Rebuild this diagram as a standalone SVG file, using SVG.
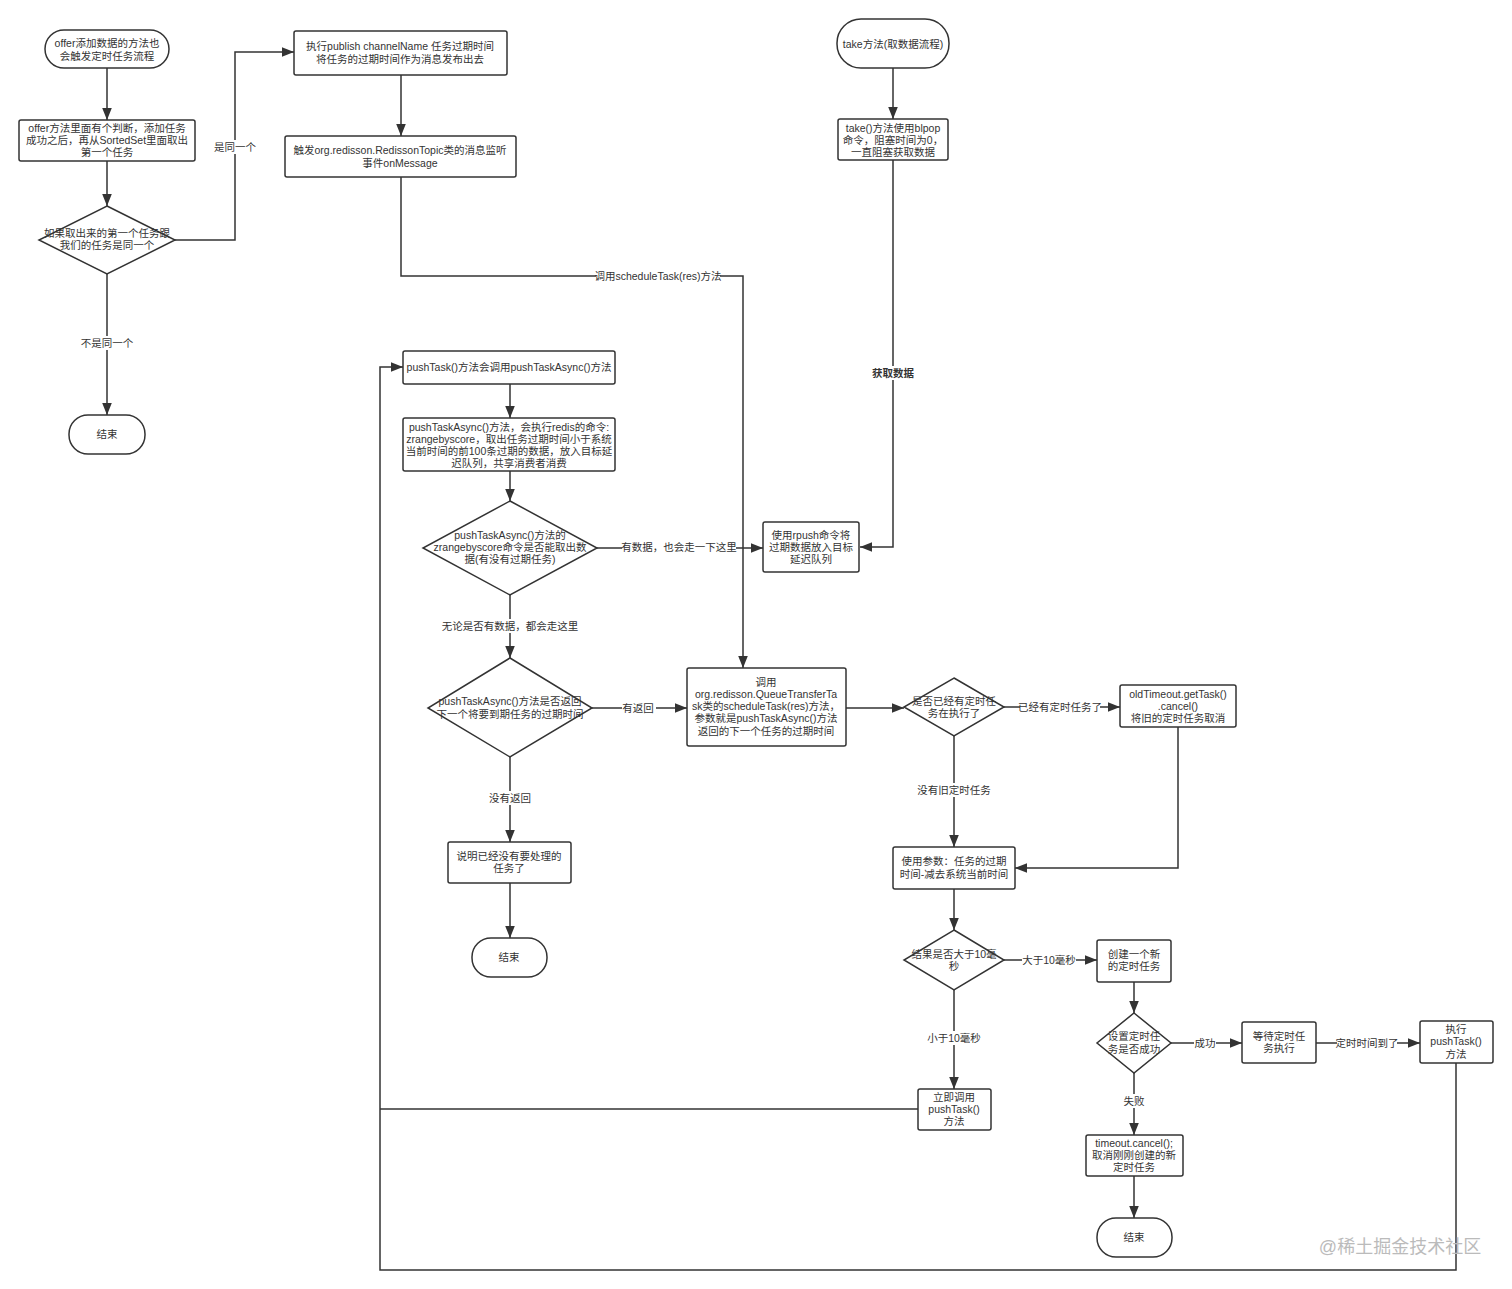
<svg xmlns="http://www.w3.org/2000/svg" width="1512" height="1289" viewBox="0 0 1512 1289">
<defs>
<marker id="a" viewBox="0 0 10 10" refX="10" refY="5" markerWidth="8" markerHeight="8" orient="auto"><path d="M0,1 L10,5 L0,9 z" fill="#333"/></marker>
<style>
.n{fill:#fff;stroke:#333;stroke-width:1.5}
.t{font-family:"Liberation Sans","Noto Sans CJK SC",sans-serif;font-size:10.5px;fill:#333;text-anchor:middle}
.e{fill:none;stroke:#333;stroke-width:1.5;marker-end:url(#a)}
.p{fill:none;stroke:#333;stroke-width:1.5}
.l{font-family:"Liberation Sans","Noto Sans CJK SC",sans-serif;font-size:10.5px;fill:#333;text-anchor:middle}
.lb{fill:#fff}
</style>
</defs>
<rect width="1512" height="1289" fill="#fff"/>
<g id="connectors">
<path class="e" d="M107,68 V120"/>
<path class="e" d="M107,161 V206"/>
<path class="e" d="M175,240 H235 V52 H294"/>
<path class="e" d="M107,274 V415"/>
<path class="e" d="M401,75 V136"/>
<path class="e" d="M401,177 V276 H743 V668"/>
<path class="e" d="M893,68 V119"/>
<path class="e" d="M893,160 V547 H860"/>
<path class="e" d="M510,384 V418"/>
<path class="e" d="M510,471 V501"/>
<path class="e" d="M597,548 H763"/>
<path class="e" d="M510,595 V658"/>
<path class="e" d="M592,708 H687"/>
<path class="e" d="M510,757 V842"/>
<path class="e" d="M510,883 V938"/>
<path class="e" d="M846,708 H904"/>
<path class="e" d="M1004,707 H1120"/>
<path class="e" d="M1178,727 V868 H1015"/>
<path class="e" d="M954,736 V847"/>
<path class="e" d="M954,889 V930"/>
<path class="e" d="M1004,960 H1097"/>
<path class="e" d="M954,990 V1089"/>
<path class="e" d="M1134,982 V1013"/>
<path class="e" d="M1171,1043 H1242"/>
<path class="e" d="M1316,1043 H1420"/>
<path class="e" d="M1134,1073 V1135"/>
<path class="e" d="M1134,1176 V1218"/>
<path class="p" d="M918,1109 H380"/>
<path class="e" d="M1456,1063 V1270 H380 V367 H403"/>
<g class="l">
<rect class="lb" x="212" y="140" width="46" height="14"/><text x="235" y="151">是同一个</text>
<rect class="lb" x="80" y="336" width="54" height="14"/><text x="107" y="347">不是同一个</text>
<rect class="lb" x="596" y="269" width="124" height="14"/><text x="658" y="280">调用scheduleTask(res)方法</text>
<rect class="lb" x="870" y="366" width="46" height="14"/><text x="893" y="377" font-weight="bold">获取数据</text>
<rect class="lb" x="622" y="540" width="114" height="14"/><text x="679" y="551">有数据，也会走一下这里</text>
<rect class="lb" x="442" y="619" width="136" height="14"/><text x="510" y="630">无论是否有数据，都会走这里</text>
<rect class="lb" x="622" y="701" width="34" height="14"/><text x="638" y="712">有返回</text>
<rect class="lb" x="487" y="791" width="46" height="14"/><text x="510" y="802">没有返回</text>
<rect class="lb" x="1020" y="700" width="80" height="14"/><text x="1060" y="711">已经有定时任务了</text>
<rect class="lb" x="918" y="783" width="72" height="14"/><text x="954" y="794">没有旧定时任务</text>
<rect class="lb" x="1022" y="953" width="54" height="14"/><text x="1049" y="964">大于10毫秒</text>
<rect class="lb" x="927" y="1031" width="54" height="14"/><text x="954" y="1042">小于10毫秒</text>
<rect class="lb" x="1194" y="1036" width="22" height="14"/><text x="1205" y="1047">成功</text>
<rect class="lb" x="1337" y="1036" width="60" height="14"/><text x="1367" y="1047">定时时间到了</text>
<rect class="lb" x="1123" y="1094" width="22" height="14"/><text x="1134" y="1105">失败</text>
</g>
</g>
<g id="start1"><rect class="n" x="45" y="30" width="124" height="38" rx="19"/><text class="t" x="107" y="47">offer添加数据的方法也</text><text class="t" x="107" y="60">会触发定时任务流程</text></g>
<g id="offerBox"><rect class="n" x="19" y="120" width="176" height="41" rx="2"/><text class="t" x="107" y="132">offer方法里面有个判断，添加任务</text><text class="t" x="107" y="144">成功之后，再从SortedSet里面取出</text><text class="t" x="107" y="156">第一个任务</text></g>
<g id="d1"><path class="n" d="M107,206 L175,240 L107,274 L39,240 z"/><text class="t" x="107" y="237">如果取出来的第一个任务跟</text><text class="t" x="107" y="249">我们的任务是同一个</text></g>
<g id="end1"><rect class="n" x="69" y="415" width="76" height="39" rx="19"/><text class="t" x="107" y="438">结束</text></g>
<g id="publish"><rect class="n" x="294" y="31" width="213" height="44" rx="2"/><text class="t" x="400" y="50">执行publish channelName 任务过期时间</text><text class="t" x="400" y="63">将任务的过期时间作为消息发布出去</text></g>
<g id="trigger"><rect class="n" x="285" y="136" width="231" height="41" rx="2"/><text class="t" x="400" y="154">触发org.redisson.RedissonTopic类的消息监听</text><text class="t" x="400" y="167">事件onMessage</text></g>
<g id="take"><rect class="n" x="837" y="19" width="112" height="49" rx="24"/><text class="t" x="893" y="48">take方法(取数据流程)</text></g>
<g id="takeBox"><rect class="n" x="838" y="119" width="110" height="41" rx="2"/><text class="t" x="893" y="132">take()方法使用blpop</text><text class="t" x="893" y="144">命令，阻塞时间为0，</text><text class="t" x="893" y="156">一直阻塞获取数据</text></g>
<g id="rpush"><rect class="n" x="763" y="522" width="96" height="50" rx="2"/><text class="t" x="811" y="539">使用rpush命令将</text><text class="t" x="811" y="551">过期数据放入目标</text><text class="t" x="811" y="563">延迟队列</text></g>
<g id="pushTask"><rect class="n" x="403" y="351" width="212" height="33" rx="2"/><text class="t" x="509" y="371">pushTask()方法会调用pushTaskAsync()方法</text></g>
<g id="pushAsync"><rect class="n" x="403" y="418" width="212" height="53" rx="2"/><text class="t" x="509" y="431">pushTaskAsync()方法，会执行redis的命令:</text><text class="t" x="509" y="443">zrangebyscore，取出任务过期时间小于系统</text><text class="t" x="509" y="455">当前时间的前100条过期的数据，放入目标延</text><text class="t" x="509" y="467">迟队列，共享消费者消费</text></g>
<g id="d2"><path class="n" d="M510,501 L597,548 L510,595 L423,548 z"/><text class="t" x="510" y="539">pushTaskAsync()方法的</text><text class="t" x="510" y="551">zrangebyscore命令是否能取出数</text><text class="t" x="510" y="563">据(有没有过期任务)</text></g>
<g id="d3"><path class="n" d="M510,658 L592,708 L510,757 L428,708 z"/><text class="t" x="510" y="705">pushTaskAsync()方法是否返回</text><text class="t" x="510" y="718">下一个将要到期任务的过期时间</text></g>
<g id="noTask"><rect class="n" x="448" y="842" width="123" height="41" rx="2"/><text class="t" x="509" y="860">说明已经没有要处理的</text><text class="t" x="509" y="872">任务了</text></g>
<g id="end2"><rect class="n" x="472" y="938" width="75" height="39" rx="19"/><text class="t" x="509" y="961">结束</text></g>
<g id="schedule"><rect class="n" x="687" y="668" width="159" height="78" rx="2"/><text class="t" x="766" y="686">调用</text><text class="t" x="766" y="698">org.redisson.QueueTransferTa</text><text class="t" x="766" y="710">sk类的scheduleTask(res)方法，</text><text class="t" x="766" y="722">参数就是pushTaskAsync()方法</text><text class="t" x="766" y="735">返回的下一个任务的过期时间</text></g>
<g id="d4"><path class="n" d="M954,678 L1004,707 L954,736 L904,707 z"/><text class="t" x="954" y="705">是否已经有定时任</text><text class="t" x="954" y="717">务在执行了</text></g>
<g id="oldBox"><rect class="n" x="1120" y="685" width="116" height="42" rx="2"/><text class="t" x="1178" y="698">oldTimeout.getTask()</text><text class="t" x="1178" y="710">.cancel()</text><text class="t" x="1178" y="722">将旧的定时任务取消</text></g>
<g id="useBox"><rect class="n" x="893" y="847" width="122" height="42" rx="2"/><text class="t" x="954" y="865">使用参数：任务的过期</text><text class="t" x="954" y="878">时间-减去系统当前时间</text></g>
<g id="d5"><path class="n" d="M954,930 L1004,960 L954,990 L904,960 z"/><text class="t" x="954" y="958">结果是否大于10毫</text><text class="t" x="954" y="970">秒</text></g>
<g id="createBox"><rect class="n" x="1097" y="940" width="74" height="42" rx="2"/><text class="t" x="1134" y="958">创建一个新</text><text class="t" x="1134" y="970">的定时任务</text></g>
<g id="d6"><path class="n" d="M1134,1013 L1171,1043 L1134,1073 L1097,1043 z"/><text class="t" x="1134" y="1040">设置定时任</text><text class="t" x="1134" y="1053">务是否成功</text></g>
<g id="waitBox"><rect class="n" x="1242" y="1022" width="74" height="41" rx="2"/><text class="t" x="1279" y="1040">等待定时任</text><text class="t" x="1279" y="1052">务执行</text></g>
<g id="execBox"><rect class="n" x="1420" y="1021" width="73" height="42" rx="2"/><text class="t" x="1456" y="1033">执行</text><text class="t" x="1456" y="1045">pushTask()</text><text class="t" x="1456" y="1058">方法</text></g>
<g id="nowBox"><rect class="n" x="918" y="1089" width="73" height="41" rx="2"/><text class="t" x="954" y="1101">立即调用</text><text class="t" x="954" y="1113">pushTask()</text><text class="t" x="954" y="1125">方法</text></g>
<g id="timeoutBox"><rect class="n" x="1086" y="1135" width="97" height="41" rx="2"/><text class="t" x="1134" y="1147">timeout.cancel();</text><text class="t" x="1134" y="1159">取消刚刚创建的新</text><text class="t" x="1134" y="1171">定时任务</text></g>
<g id="end3"><rect class="n" x="1097" y="1218" width="75" height="39" rx="19"/><text class="t" x="1134" y="1241">结束</text></g>
<text x="1400" y="1253" font-family="Liberation Sans,Noto Sans CJK SC,sans-serif" font-size="18" fill="#bbb" text-anchor="middle">@稀土掘金技术社区</text>
</svg>
